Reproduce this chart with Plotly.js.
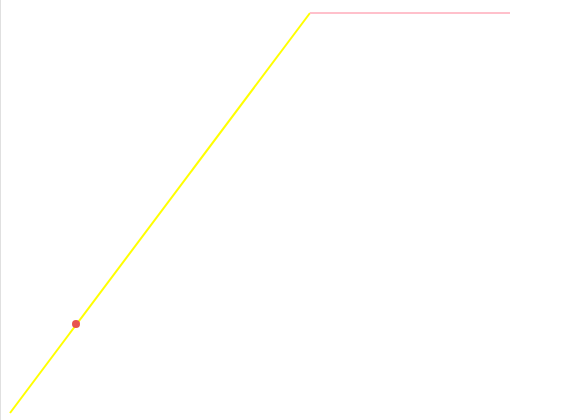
<!DOCTYPE html>
<html>
<head>
<meta charset="utf-8">
<script src="https://cdn.plot.ly/plotly-3.0.1.min.js"></script>
<style>
  html, body { margin: 0; padding: 0; background: white; }
  #chart { width: 583px; height: 420px; }
</style>
</head>
<body>
<div id="chart"></div>
<script>
// rising segment, then flat segment, then a single marker on the rise
const riseX = [0, 3];
const riseY = [0, 4];
const flatX = [3, 5];
const flatY = [4, 4];
const pointX = [0.66];
const pointY = [0.89];

const traces = [
    {
        x: riseX,
        y: riseY,
        type: 'scatter',
        mode: 'lines',
        line: { color: '#ffff00', width: 2 },
        hoverinfo: 'none'
    },
    {
        x: flatX,
        y: flatY,
        type: 'scatter',
        mode: 'lines',
        line: { color: '#ffc0cb', width: 2 },
        hoverinfo: 'none'
    },
    {
        x: pointX,
        y: pointY,
        type: 'scatter',
        mode: 'markers',
        marker: { color: '#e8554e', size: 8 },
        hoverinfo: 'none'
    }
];

const layout = {
    width: 583,
    height: 420,
    plot_bgcolor: 'white',
    paper_bgcolor: 'white',
    showlegend: false,
    margin: { l: 1, r: 0, t: 0, b: 0, pad: 0 },
    xaxis: {
        range: [-0.09, 5.73],
        showgrid: false,
        zeroline: false,
        showticklabels: false,
        ticks: ''
    },
    yaxis: {
        range: [-0.07, 4.13],
        showgrid: false,
        zeroline: false,
        showticklabels: false,
        ticks: '',
        showline: true,
        linecolor: '#e0e0e0',
        linewidth: 1
    }
};

Plotly.newPlot('chart', traces, layout, { displayModeBar: false, staticPlot: true });
</script>
</body>
</html>
